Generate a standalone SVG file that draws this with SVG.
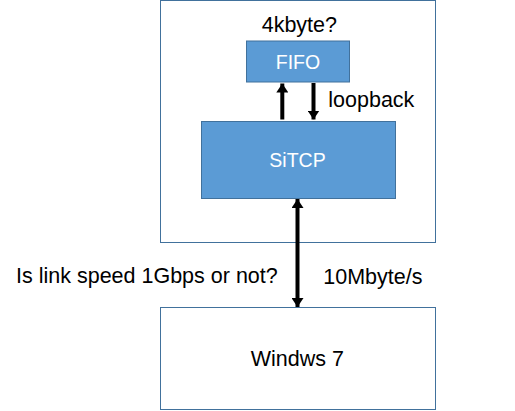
<svg xmlns="http://www.w3.org/2000/svg" width="515" height="411" viewBox="0 0 515 411">
<defs>
<style>
.frame{fill:#ffffff;stroke:#41719C;stroke-width:1}
.blk{fill:#5B9BD5;stroke:#41719C;stroke-width:1}
.lbl{font-family:"Liberation Sans",Arial,sans-serif;font-size:21.5px;fill:#000000}
.in{font-family:"Liberation Sans",Arial,sans-serif;font-size:19.5px;fill:#ffffff;text-anchor:middle}
.arr{stroke:#000000;stroke-width:4;fill:none}
</style>
<marker id="ah" viewBox="0 0 10 10" refX="10" refY="5" markerUnits="userSpaceOnUse" markerWidth="9" markerHeight="12" orient="auto-start-reverse" preserveAspectRatio="none">
<path d="M0,0 L10,5 L0,10 z" fill="#000000"/>
</marker>
</defs>
<rect width="515" height="411" fill="#ffffff"/>
<g id="board">
<rect class="frame" x="160.5" y="0.5" width="275" height="242"/>
</g>
<g id="fifo">
<rect class="blk" x="246.5" y="41" width="103" height="41"/>
<text class="in" x="298" y="68.5">FIFO</text>
</g>
<g id="sitcp">
<rect class="blk" x="201.5" y="121.5" width="194" height="77"/>
<text class="in" x="297.5" y="167">SiTCP</text>
</g>
<g id="pc">
<rect class="frame" x="160.5" y="307.5" width="275" height="102"/>
<text class="lbl" x="250.7" y="366">Windws 7</text>
</g>
<g id="connectors">
<line class="arr" x1="282.3" y1="119.5" x2="282.3" y2="83.5" marker-end="url(#ah)"/>
<line class="arr" x1="313.5" y1="83" x2="313.5" y2="119.5" marker-end="url(#ah)"/>
<line class="arr" x1="297.5" y1="199" x2="297.5" y2="307" marker-start="url(#ah)" marker-end="url(#ah)"/>
</g>
<g id="labels">
<text class="lbl" x="261.7" y="32">4kbyte?</text>
<text class="lbl" x="328.3" y="107">loopback</text>
<text class="lbl" x="16" y="283">Is link speed 1Gbps or not?</text>
<text class="lbl" x="323.3" y="284">10Mbyte/s</text>
</g>
</svg>
